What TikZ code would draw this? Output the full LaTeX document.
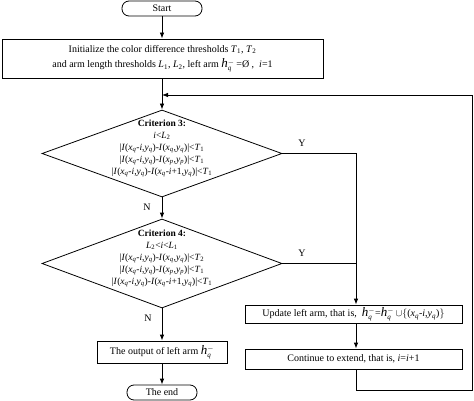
\documentclass[tikz,border=0pt]{standalone}
\usepackage{amsmath}
\usepackage{fontspec}
\setmainfont{Liberation Serif}
\usetikzlibrary{shapes.geometric,arrows.meta}
\newcommand{\xs}[2]{\textit{#1}\textsubscript{\textit{#2}}}
\newcommand{\Tn}[1]{\textit{T}\textsubscript{#1}}
\newcommand{\Ln}[1]{\textit{L}\textsubscript{#1}}
\newcommand{\hq}{{\fontsize{13}{13}\selectfont\textit{h}}$^{-}_{\textit{q}}$}
\begin{document}
\begin{tikzpicture}[x=1pt,y=-1pt,
  box/.style={draw, line width=0.8pt, inner sep=0pt, align=center, font=\fontsize{10}{15.5}\selectfont},
  term/.style={box, rounded corners=7pt},
  dia/.style={draw, diamond, line width=0.8pt, inner sep=0pt},
  dtext/.style={align=center, inner sep=0pt, font=\fontsize{9.5}{12}\selectfont},
  arr/.style={-{Latex[length=6pt,width=4.5pt]}, line width=0.8pt},
  ln/.style={line width=0.8pt},
  lab/.style={font=\fontsize{10}{10}\selectfont, inner sep=0pt}]
\useasboundingbox (0,0) rectangle (474,401);
\node[term, minimum width=80pt, minimum height=15pt] (start) at (162,8.5) {Start};
\node[box, minimum width=321pt, minimum height=39pt] (init) at (162.5,58.5)
  {Initialize the color difference thresholds \Tn{1}, \Tn{2}\\
   and arm length thresholds \Ln{1}, \Ln{2}, left arm \hq\,=Ø ,\ \ \textit{i}=1};
\node[dia, minimum width=240pt, minimum height=87pt] (d1) at (162,153.5) {};
\node[dtext] (d1t) at (162,148.5)
  {\textbf{Criterion 3:}\\
   \textit{i}<\Ln{2}\\
   |\textit{I}(\xs{x}{q}-\textit{i},\xs{y}{q})-\textit{I}(\xs{x}{q},\xs{y}{q})|<\Tn{1}\\
   |\textit{I}(\xs{x}{q}-\textit{i},\xs{y}{q})-\textit{I}(\xs{x}{p},\xs{y}{p})|<\Tn{1}\\
   |\textit{I}(\xs{x}{q}-\textit{i},\xs{y}{q})-\textit{I}(\xs{x}{q}-\textit{i}+1,\xs{y}{q})|<\Tn{1}};
\node[dia, minimum width=240pt, minimum height=89pt] (d2) at (162,263.5) {};
\node[dtext] (d2t) at (162,258.5)
  {\textbf{Criterion 4:}\\
   \Ln{2}<\textit{i}<\Ln{1}\\
   |\textit{I}(\xs{x}{q}-\textit{i},\xs{y}{q})-\textit{I}(\xs{x}{q},\xs{y}{q})|<\Tn{2}\\
   |\textit{I}(\xs{x}{q}-\textit{i},\xs{y}{q})-\textit{I}(\xs{x}{p},\xs{y}{p})|<\Tn{1}\\
   |\textit{I}(\xs{x}{q}-\textit{i},\xs{y}{q})-\textit{I}(\xs{x}{q}-\textit{i}+1,\xs{y}{q})|<\Tn{1}};
\node[box, minimum width=130pt, minimum height=22pt] (out) at (162,352) {The output of left arm \hq};
\node[term, minimum width=70pt, minimum height=15pt] (end) at (162,392.5) {The end};
\node[box, minimum width=217pt, minimum height=18pt] (upd) at (353.5,314)
  {Update left arm, that is, \ \hq=\hq\,$\cup\{$(\xs{x}{q}-\textit{i},\xs{y}{q})$\}$};
\node[box, minimum width=217pt, minimum height=20pt] (cont) at (353.5,359)
  {Continue to extend, that is, \textit{i}=\textit{i}+1};
\node[lab] (y1) at (302,143) {Y};
\node[lab] (y2) at (302,253) {Y};
\node[lab] (n1) at (147,207) {N};
\node[lab] (n2) at (148,318) {N};
\coordinate (ycol) at (356,153);
\coordinate (loopin) at (162,95);
\coordinate (rb) at (472,390);
\draw[arr] (start) -- (init.north -| start);
\draw[arr] (init.south -| d1.north) -- (d1.north);
\draw[arr] (d1.south) -- (d2.north);
\draw[arr] (d2.south) -- (out.north);
\draw[arr] (out.south) -- (end.north);
\draw[ln] (d1.east) -- (d1.east -| ycol);
\draw[ln] (d2.east) -- (d2.east -| ycol);
\draw[arr] (d1.east -| ycol) -- (upd.north -| ycol);
\draw[arr] (upd.south -| ycol) -- (cont.north -| ycol);
\draw[arr] (cont.south -| ycol) |- (rb) |- (loopin);
\end{tikzpicture}
\end{document}
